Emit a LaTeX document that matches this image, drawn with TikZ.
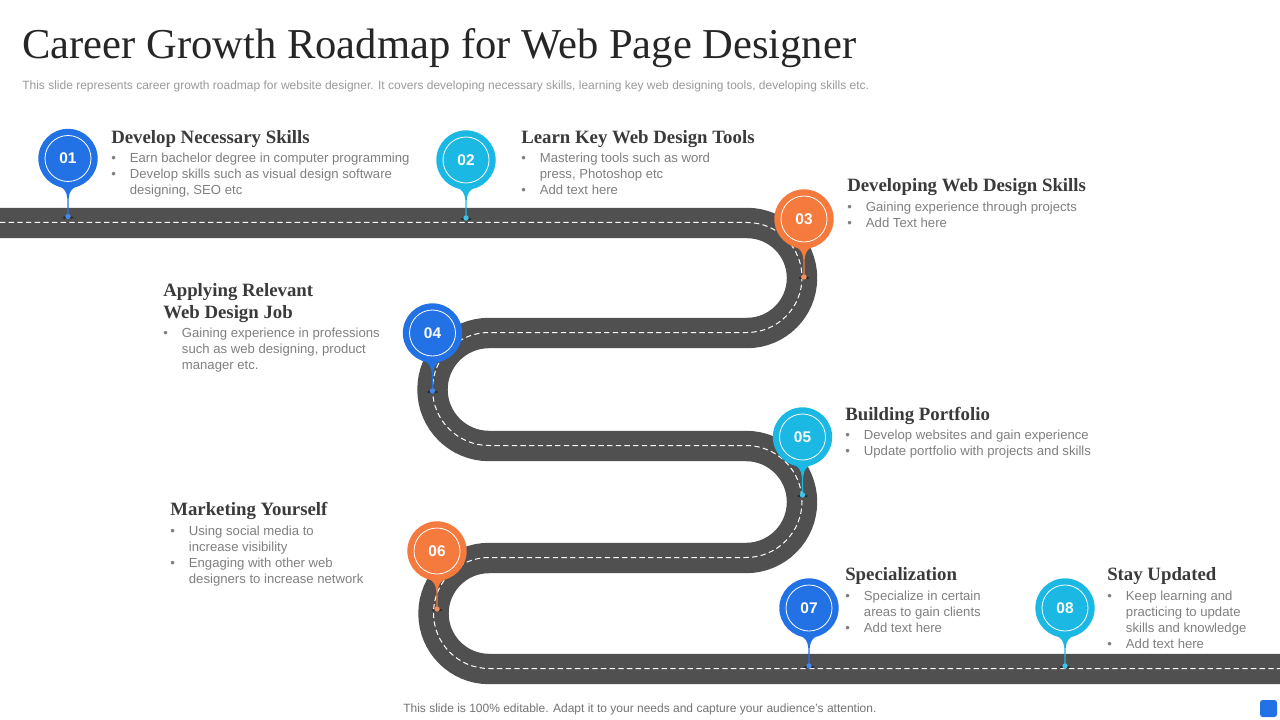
\documentclass[tikz,border=0pt]{standalone}
\usepackage{fontspec}
\setmainfont{Liberation Serif}
\setsansfont{Liberation Sans}
\definecolor{roadgray}{HTML}{505050}
\definecolor{pinblue}{HTML}{2272E6}
\definecolor{pincyan}{HTML}{1CB8E4}
\definecolor{pinorange}{HTML}{F47A3E}
\definecolor{bodygray}{HTML}{7F7F7F}
\definecolor{headgray}{HTML}{3A3A3A}
\tikzset{
	head/.style={font=\fontsize{14.1}{16.5}\selectfont\bfseries,text=headgray,anchor=north west,inner sep=0pt,align=left},
	body/.style={font=\sffamily\fontsize{9.85}{12}\selectfont,text=bodygray,anchor=north west,inner sep=0pt,align=left},
}
\def\itm{\makebox[14pt][l]{\textbullet}}
\def\nxt{\hspace*{14pt}}
\def\pin#1#2{%
	\fill [black,opacity=0.45] (0,59) ellipse (5.5 and 1.4);
	\fill [#1] (-9,27) .. controls (-3,31) and (-1.5,33) .. (-0.7,40) -- (-0.7,58) -- (0.7,58) -- (0.7,40) .. controls (1.5,33) and (3,31) .. (9,27) -- cycle;
	\node (pin#2) [circle,fill=#1,minimum size=44.5pt,inner sep=0pt] at (0,0) {};
	\node (ring#2) [circle,draw=white,line width=0.6pt,minimum size=34.5pt,inner sep=0pt,text=white,font=\sffamily\bfseries\fontsize{11.6}{14}\selectfont] at (0,0) {#2};
	\fill [#1!85!white] (0,58) circle (2.7);
}
\begin{document}
\begin{tikzpicture}[x=0.75pt,y=-0.75pt]
\useasboundingbox (0,0) rectangle (1280,720);
% road
\draw [roadgray,line width=22.8pt] (0,223) -- (747,223) arc [start angle=-90,end angle=90,radius=55]
	-- (489,333) arc [start angle=-90,end angle=-270,radius=56.5]
	-- (746,446) arc [start angle=-90,end angle=90,radius=56]
	-- (489,558) arc [start angle=-90,end angle=-270,radius=55.5]
	-- (1280,669);
\draw [white,line width=0.75pt,dash pattern=on 4pt off 2.5pt] (0,222.5) -- (747,222.5) arc [start angle=-90,end angle=90,radius=55]
	-- (489,332.5) arc [start angle=-90,end angle=-270,radius=56.5]
	-- (746,445.5) arc [start angle=-90,end angle=90,radius=56]
	-- (489,557.5) arc [start angle=-90,end angle=-270,radius=55.5]
	-- (1280,668.5);
% pins
\foreach \x / \z / \c / \n in {68/158.5/pinblue/01,466/160/pincyan/02,804/219/pinorange/03,432.5/333/pinblue/04,802.5/437/pincyan/05,437/551/pinorange/06,809/608/pinblue/07,1065/608/pincyan/08}
{
\begin{scope}[shift={(\x,\z)}]
\pin{\c}{\n}
\end{scope}
}
% title
\node (title) [anchor=north west,inner sep=0pt,text=black!85,font=\fontsize{31.95}{36}\selectfont] at (22,28) {Career Growth Roadmap for Web Page Designer};
\node (subtitle) [anchor=north west,inner sep=0pt,text=black!40,font=\sffamily\fontsize{9}{11}\selectfont] at (22,80.5) {This slide represents career growth roadmap for website designer. It covers developing necessary skills, learning key web designing tools, developing skills etc.};
% step texts
\node (head01) [head] at (111,130) {Develop Necessary Skills};
\node (body01) [body] at (111,153) {\itm Earn bachelor degree in computer programming\\\itm Develop skills such as visual design software\\\nxt designing, SEO etc};
\node (head02) [head] at (521,130) {Learn Key Web Design Tools};
\node (body02) [body] at (521,153) {\itm Mastering tools such as word\\\nxt press, Photoshop etc\\\itm Add text here};
\node (head03) [head] at (847,178) {Developing Web Design Skills};
\node (body03) [body] at (847,202) {\itm Gaining experience through projects\\\itm Add Text here};
\node (head04) [head] at (163,283) {Applying Relevant\\Web Design Job};
\node (body04) [body] at (163,328) {\itm Gaining experience in professions\\\nxt such as web designing, product\\\nxt manager etc.};
\node (head05) [head] at (845,407) {Building Portfolio};
\node (body05) [body] at (845,430) {\itm Develop websites and gain experience\\\itm Update portfolio with projects and skills};
\node (head06) [head] at (170,502) {Marketing Yourself};
\node (body06) [body] at (170,526) {\itm Using social media to\\\nxt increase visibility\\\itm Engaging with other web\\\nxt designers to increase network};
\node (head07) [head] at (845,567) {Specialization};
\node (body07) [body] at (845,591) {\itm Specialize in certain\\\nxt areas to gain clients\\\itm Add text here};
\node (head08) [head] at (1107,567) {Stay Updated};
\node (body08) [body] at (1107,591) {\itm Keep learning and\\\nxt practicing to update\\\nxt skills and knowledge\\\itm Add text here};
% footer
\node (footer) [anchor=north west,inner sep=0pt,text=black!55,font=\sffamily\fontsize{9}{11}\selectfont] at (403,704) {This slide is 100\% editable. Adapt it to your needs and capture your audience's attention.};
\fill [pinblue,rounded corners=2pt] (1260,700) rectangle (1277,717);
\end{tikzpicture}
\end{document}
